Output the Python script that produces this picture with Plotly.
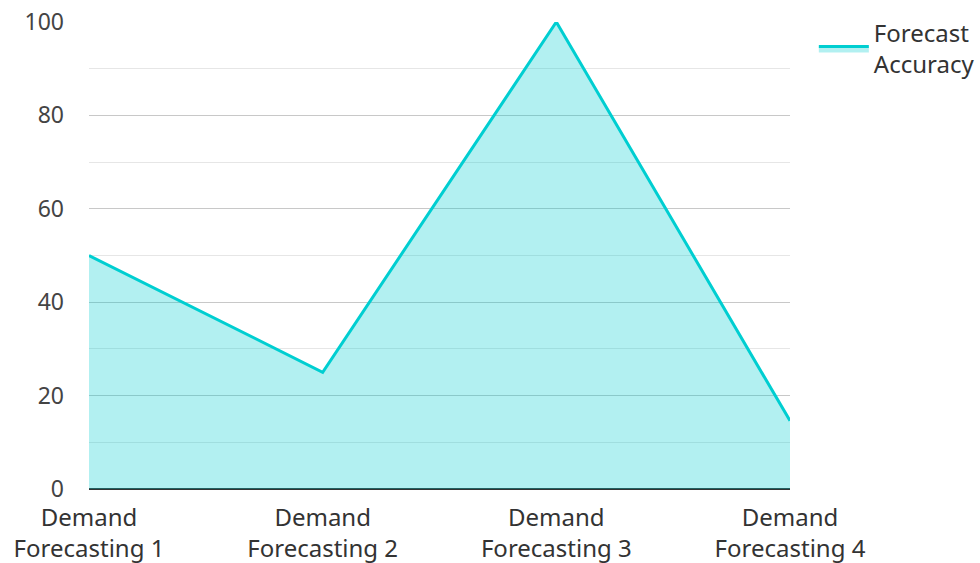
import plotly.graph_objects as go

categories = ["Demand<br>Forecasting 1", "Demand<br>Forecasting 2", "Demand<br>Forecasting 3", "Demand<br>Forecasting 4"]
accuracy = [50, 25, 100, 14.6]
series_name = "Forecast<br>Accuracy"

fig = go.Figure()
fig.add_trace(go.Scatter(
    x=categories, y=accuracy, name=series_name, mode="lines",
    line=dict(color="#00CED1", width=3),
    fill="tozeroy", fillcolor="rgba(0,206,209,0.3)",
))

font = "Noto Sans, Open Sans, sans-serif"
fig.update_layout(
    width=980, height=563,
    margin=dict(l=89, r=190, t=22, b=74, autoexpand=False),
    paper_bgcolor="white", plot_bgcolor="white",
    font=dict(family=font, size=24, color="#444"),
    showlegend=True,
    legend=dict(x=1.034, y=1.024, xanchor="left", yanchor="top", itemwidth=50,
                font=dict(size=24, color="#333"), bgcolor="rgba(0,0,0,0)"),
    xaxis=dict(
        type="category", range=[0, 3], showgrid=False,
        tickfont=dict(size=24, color="#333"), ticks="",
        showline=False, zeroline=False, ticklabelstandoff=12,
    ),
    yaxis=dict(
        range=[0, 100], dtick=20, tick0=0,
        showgrid=True, gridcolor="#c8c8c8", gridwidth=1,
        minor=dict(dtick=10, showgrid=True, gridcolor="#e6e6e6", gridwidth=1),
        zeroline=True, zerolinecolor="#333", zerolinewidth=2,
        tickfont=dict(size=23, color="#444"), ticks="", ticklabelstandoff=24,
        showline=False,
    ),
)

fig.write_html("out.html", config={"displayModeBar": False},
               post_script="document.body.style.margin='0';")
